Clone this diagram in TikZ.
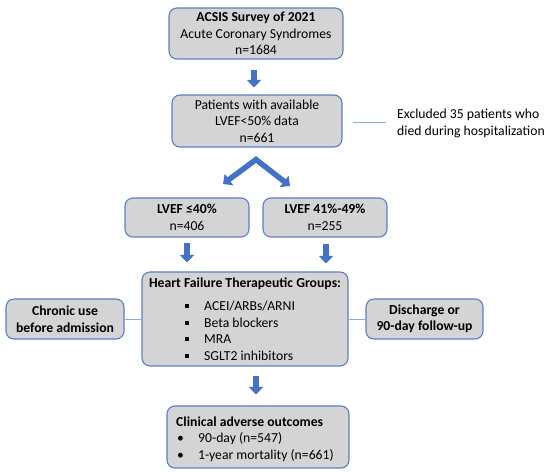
\documentclass[tikz,border=0pt]{standalone}
\usepackage{fontspec}
\setmainfont{Carlito}
\usetikzlibrary{arrows.meta,calc}
\definecolor{boxfill}{HTML}{D4D4D4}
\definecolor{boxline}{HTML}{5B7FC2}
\definecolor{arrblue}{HTML}{4472C4}
\definecolor{thinline}{HTML}{8EAADB}
\begin{document}
\begin{tikzpicture}[x=1pt,y=-1pt,
  box/.style={draw=boxline, line width=1.1pt, fill=boxfill, rounded corners=8pt,
    align=center, inner sep=0pt, font=\fontsize{13.7}{16.5}\selectfont},
  txt/.style={inner sep=0pt, font=\fontsize{13.7}{16.5}\selectfont},
  barrow/.style={draw=arrblue, line width=6.5pt, -{Triangle[width=14pt,length=7.5pt]}},
  conn/.style={draw=thinline, line width=0.9pt}]
\useasboundingbox (0,0) rectangle (550,476);

\node[box, minimum width=174pt, minimum height=51pt] (acs) at (256,33.5)
  {\textbf{ACSIS Survey of 2021}\\Acute Coronary Syndromes\\n=1684};
\node[box, minimum width=170pt, minimum height=52pt] (pat) at (257,121)
  {Patients with available\\LVEF<50\% data\\n=661};
\node[txt, anchor=west, align=left] (excl) at (397,123.5)
  {Excluded 35 patients who\\died during hospitalization};
\node[box, minimum width=124pt, minimum height=39pt] (lv1) at (187,217.5)
  {\textbf{LVEF ≤40\%}\\n=406};
\node[box, minimum width=124pt, minimum height=39pt] (lv2) at (325,217.5)
  {\textbf{LVEF 41\%-49\%}\\n=255};
\node[box, minimum width=206pt, minimum height=94pt] (hf) at (245,319) {};
\node[txt] (hft) at (245,284) {\textbf{Heart Failure Therapeutic Groups:}};
\node[txt, anchor=west, align=left] (hfl) at (184,331)
  {\makebox[20pt][l]{\hspace{1pt}\rule[2.5pt]{4pt}{4pt}}ACEI/ARBs/ARNI\\
   \makebox[20pt][l]{\hspace{1pt}\rule[2.5pt]{4pt}{4pt}}Beta blockers\\
   \makebox[20pt][l]{\hspace{1pt}\rule[2.5pt]{4pt}{4pt}}MRA\\
   \makebox[20pt][l]{\hspace{1pt}\rule[2.5pt]{4pt}{4pt}}SGLT2 inhibitors};
\node[box, minimum width=118pt, minimum height=40pt] (chr) at (65,319)
  {\textbf{Chronic use}\\\textbf{before admission}};
\node[box, minimum width=117pt, minimum height=40pt] (dis) at (424.5,319)
  {\textbf{Discharge or}\\\textbf{90-day follow-up}};
\node[box, minimum width=182pt, minimum height=62pt] (out) at (258,437) {};
\node[txt, anchor=west, align=left] (outl) at (176,439)
  {\textbf{Clinical adverse outcomes}\\
   \makebox[22pt][l]{\hspace{1pt}•}90-day (n=547)\\
   \makebox[22pt][l]{\hspace{1pt}•}1-year mortality (n=661)};

% arrows
\draw[barrow] ($(acs.south)+(-2,10)$) -- ($(pat.north)+(-3,-7)$);
\coordinate (apex) at ($(pat.south)+(-1,12)$);
\coordinate (cl) at (223,184);
\coordinate (cr) at (290,186);
\draw[draw=arrblue, line width=5.5pt, line join=miter,
  {Triangle[width=14pt,length=7.5pt]}-{Triangle[width=14pt,length=7.5pt]}]
  (cl) -- (apex) -- (cr);
\draw[barrow] ($(lv1.south)+(0,5)$) -- ($(lv1.south |- hf.north)+(0,-9)$);
\draw[barrow] ($(lv2.south)+(1,6)$) -- ($(lv2.south |- hf.north)+(1,-8)$);
\draw[barrow] ($(out.north |- hf.south)+(-2,9)$) -- ($(out.north)+(-2,-11)$);

% thin connectors
\coordinate (l0) at ($(pat.east)+(10,1)$);
\draw[conn, shorten >=11pt] (l0) -- (l0 -| excl.west);
\draw[conn] (chr.east) -- (hf.west);
\draw[conn] (hf.east) -- (dis.west);
\end{tikzpicture}
\end{document}
